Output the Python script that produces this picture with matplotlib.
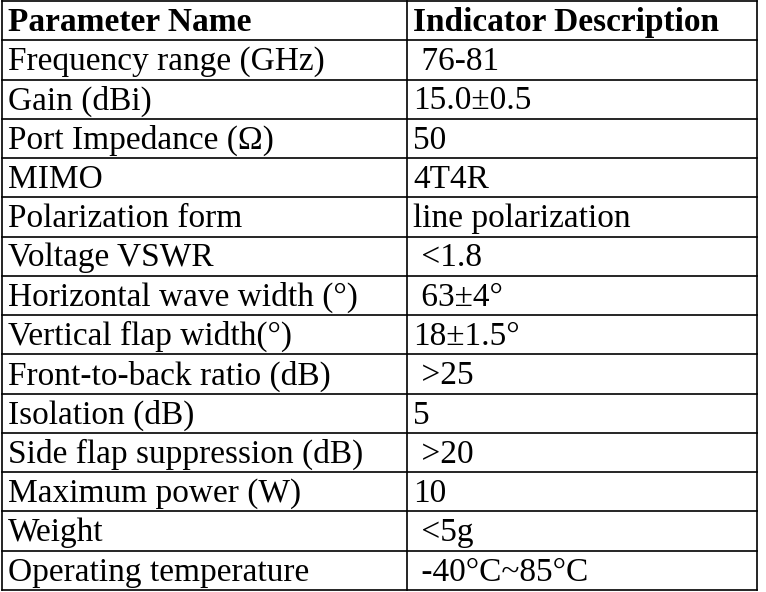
import matplotlib
matplotlib.use("Agg")
import matplotlib.pyplot as plt

header = ["Parameter Name", "Indicator Description"]
params = ["Frequency range (GHz)", "Gain (dBi)", "Port Impedance (Ω)", "MIMO",
          "Polarization form", "Voltage VSWR", "Horizontal wave width (°)",
          "Vertical flap width(°)", "Front-to-back ratio (dB)", "Isolation (dB)",
          "Side flap suppression (dB)", "Maximum power (W)", "Weight",
          "Operating temperature"]
values = [" 76-81", "15.0±0.5", "50", "4T4R", "line polarization", " <1.8",
          " 63±4°", "18±1.5°", " >25", "5", " >20", "10", " <5g", " -40°C~85°C"]

W, H = 766, 592
fig = plt.figure(figsize=(W/100, H/100), dpi=100)
ax = fig.add_axes([0, 0, 1, 1])
ax.set_xlim(0, W); ax.set_ylim(H, 0); ax.axis("off")

x0, x1, x2 = 2, 407, 757
top, bot = 1, 590
n = len(params) + 1
rh = (bot - top) / n
lw = 1.2
for i in range(n + 1):
    y = top + i * rh
    ax.plot([x0, x2], [y, y], color="black", lw=lw)
for x in (x0, x1, x2):
    ax.plot([x, x], [top, bot], color="black", lw=lw)

font = dict(family=["Liberation Serif", "DejaVu Serif"], fontsize=24, va="center", ha="left")
ax.text(x0 + 6, top + rh/2 + 2, header[0], fontweight="bold", **font)
ax.text(x1 + 6, top + rh/2 + 2, header[1], fontweight="bold", **font)
for i, (p, v) in enumerate(zip(params, values)):
    y = top + (i + 1.5) * rh + 2
    ax.text(x0 + 6, y, p, **font)
    ax.text(x1 + 6, y, v, **font)

fig.savefig("out.png", dpi=100)
